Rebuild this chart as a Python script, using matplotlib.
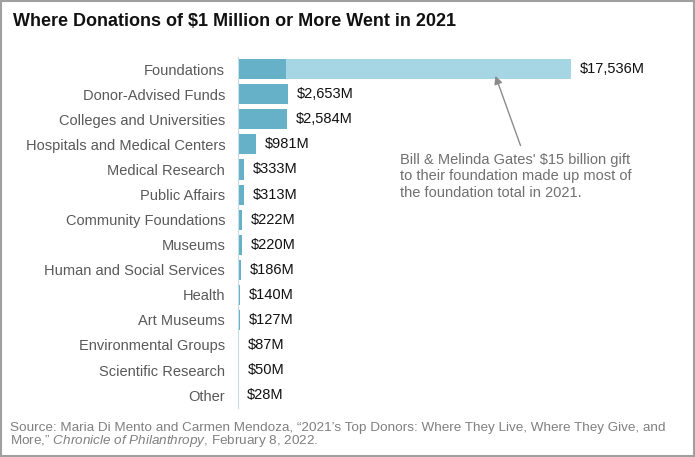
import matplotlib.pyplot as plt
from matplotlib.patches import Rectangle

plt.rcParams['font.family'] = ['Liberation Sans', 'DejaVu Sans']
plt.rcParams['mathtext.fontset'] = 'custom'
plt.rcParams['mathtext.it'] = 'Liberation Sans:italic'
plt.rcParams['mathtext.rm'] = 'Liberation Sans'

categories = ['Foundations', 'Donor-Advised Funds', 'Colleges and Universities',
              'Hospitals and Medical Centers', 'Medical Research', 'Public Affairs',
              'Community Foundations', 'Museums', 'Human and Social Services',
              'Health', 'Art Museums', 'Environmental Groups', 'Scientific Research',
              'Other']
values = [17536, 2653, 2584, 981, 333, 313, 222, 220, 186, 140, 127, 87, 50, 28]
labels = ['$17,536M', '$2,653M', '$2,584M', '$981M', '$333M', '$313M', '$222M',
          '$220M', '$186M', '$140M', '$127M', '$87M', '$50M', '$28M']
gates_gift = 15000

dark = '#66b1c8'
light = '#a6d5e3'

fig = plt.figure(figsize=(6.95, 4.57), dpi=100)
fig.patches.append(Rectangle((0.002, 0.003), 0.996, 0.994, transform=fig.transFigure,
                             fill=False, edgecolor='#a0a0a0', linewidth=1.5))

ax = fig.add_axes([0.342, 0.108, 0.64, 0.768])
y = list(range(len(categories)))
base = [v - gates_gift if i == 0 else v for i, v in enumerate(values)]
ax.barh(y, base, height=0.8, color=dark)
ax.barh(y[0], gates_gift, left=base[0], height=0.8, color=light)
for yi, v, lab in zip(y, values, labels):
    ax.text(v + 470, yi, lab, va='center', ha='left', fontsize=10.5, color='#111111')

ax.set_yticks(y)
ax.set_yticklabels(categories, fontsize=10.5, color='#595959')
ax.tick_params(axis='y', length=0, pad=9)
ax.set_xticks([])
ax.set_ylim(len(categories) - 0.5, -0.5)
ax.set_xlim(0, 23434)
for s in ['top', 'right', 'bottom']:
    ax.spines[s].set_visible(False)
ax.spines['left'].set_color('#c8dde4')

ax.annotate('', xy=(13530, 0.16), xytext=(14950, 3.15),
            arrowprops=dict(arrowstyle='-|>', color='#8c8c8c', lw=1, mutation_scale=12))
ax.text(8530, 3.35, "Bill & Melinda Gates' $15 billion gift\nto their foundation made up most of\nthe foundation total in 2021.",
        fontsize=10.5, color='#707070', va='top', ha='left', linespacing=1.2)

fig.text(0.018, 0.952, 'Where Donations of $1 Million or More Went in 2021',
         fontsize=13, fontweight='bold', color='#111111', va='center')
fig.text(0.014, 0.063, 'Source: Maria Di Mento and Carmen Mendoza, \u201c2021\u2019s Top Donors: Where They Live, Where They Give, and',
         fontsize=9.7, color='#808080', va='center')
fig.text(0.014, 0.035, 'More,\u201d $\\it{Chronicle\\ of\\ Philanthropy}$, February 8, 2022.',
         fontsize=9.7, color='#808080', va='center')

fig.savefig('out.png', dpi=100)
